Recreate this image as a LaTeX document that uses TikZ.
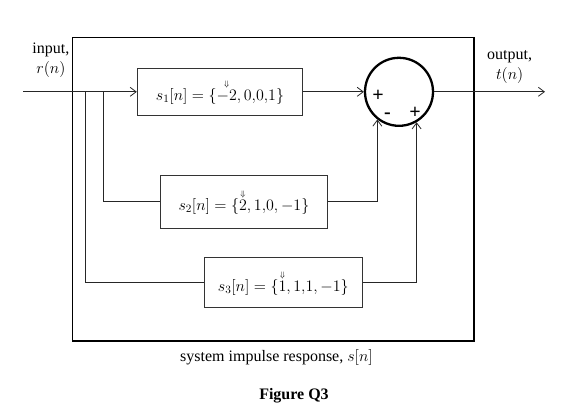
\RequirePackage{fix-cm}
\documentclass[tikz,border=0pt]{standalone}
\usepackage{amsmath}
\usepackage{fontspec}
\setmainfont{Liberation Serif}
\usetikzlibrary{arrows.meta}
\newcommand{\dmark}[1]{\overset{\scriptscriptstyle\Downarrow}{#1}}
\begin{document}
\begin{tikzpicture}[x=1pt,y=-1pt,
  blk/.style={draw=black!80,line width=0.9pt,inner sep=0pt,font=\fontsize{16}{18}\selectfont},
  wire/.style={line width=0.8pt,draw=black!85},
  arr/.style={wire,-{Straight Barb[length=6pt,width=9pt]}},
  lbl/.style={font=\fontsize{16}{20}\selectfont,align=center,inner sep=0pt},
  sgn/.style={font=\fontsize{20}{20}\selectfont\bfseries,inner sep=0pt,anchor=base}]
\useasboundingbox (0,0) rectangle (573,416);
\draw[line width=1.8pt] (72.5,37.5) rectangle (474,341);
\node[blk,minimum width=165.5pt,minimum height=47pt] (s1) at (220,91.8) {$s_1[n]=\{\dmark{-2}, 0{,}0{,}1\}$};
\node[blk,minimum width=166.5pt,minimum height=53pt] (s2) at (243.9,201.8) {$s_2[n]=\{\dmark{2}, 1{,}0, -1\}$};
\node[blk,minimum width=158pt,minimum height=50.5pt] (s3) at (283.3,282.5) {$s_3[n]=\{\dmark{1}, 1{,}1, -1\}$};
\node[circle,draw,line width=2.3pt,minimum size=68pt,inner sep=0pt] (sum) at (399,91.8) {};
\coordinate (in) at (23,91.8);
\coordinate (out) at (545,91.8);
\coordinate (b2) at (103,91.8);
\coordinate (b3) at (85,91.8);
\draw[arr] (in) -- (s1.west);
\draw[wire] (b2) |- (s2.west);
\draw[wire] (b3) |- (s3.west);
\draw[arr] (s1.east) -- (sum.west);
\draw[arr] (s2.east) -| (sum.-128);
\draw[arr] (s3.east) -| (sum.-60);
\draw[arr] (sum.east) -- (out);
\node[sgn] (pa) at (378,101) {+};
\node[sgn] (mi) at (387.5,118) {-};
\node[sgn] (pb) at (415,118) {+};
\node[lbl,anchor=east] (inl) at (69.5,60) {input,\\ $r(n)$};
\node[lbl,anchor=west] (outl) at (487,67) {output,\\ $t(n)$};
\node[lbl] (cap) at (276.5,357) {system impulse response, $s[n]$};
\node[lbl,font=\fontsize{16}{20}\selectfont\bfseries] (fig) at (294,396) {Figure Q3};
\end{tikzpicture}
\end{document}
